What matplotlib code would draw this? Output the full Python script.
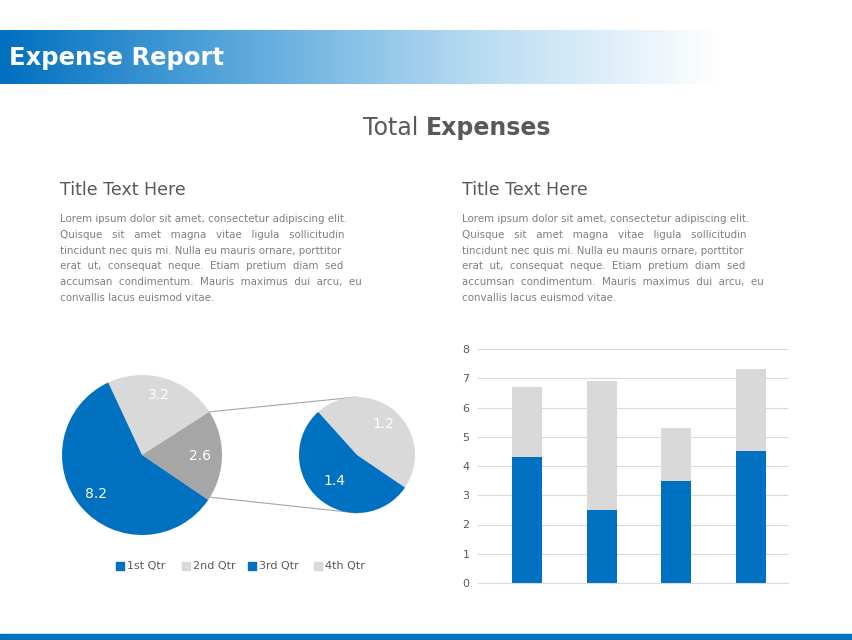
import numpy as np
import matplotlib.pyplot as plt
from matplotlib.colors import LinearSegmentedColormap

# data
main_vals = [3.2, 2.6, 8.2]          # 2nd Qtr, other (3rd+4th), 1st Qtr
main_cols = ["#d9d9d9", "#a6a6a6", "#0070c0"]
sub_vals = [1.2, 1.4]                # 4th Qtr, 3rd Qtr
sub_cols = ["#d9d9d9", "#0070c0"]
legend_labels = ["1st Qtr", "2nd Qtr", "3rd Qtr", "4th Qtr"]
legend_cols = ["#0070c0", "#d9d9d9", "#0070c0", "#d9d9d9"]
bar_blue = [4.3, 2.5, 3.5, 4.5]
bar_grey = [2.4, 4.4, 1.8, 2.8]

lorem = ("Lorem ipsum dolor sit amet, consectetur adipiscing elit.\n"
         "Quisque   sit   amet   magna   vitae   ligula   sollicitudin\n"
         "tincidunt nec quis mi. Nulla eu mauris ornare, porttitor\n"
         "erat  ut,  consequat  neque.  Etiam  pretium  diam  sed\n"
         "accumsan  condimentum.  Mauris  maximus  dui  arcu,  eu\n"
         "convallis lacus euismod vitae.")

W, H = 853, 640
fig = plt.figure(figsize=(W / 100, H / 100), dpi=100)
plt.rcParams['font.family'] = ['DejaVu Sans']

def px_axes(x, y, w, h):
    return fig.add_axes([x / W, 1 - (y + h) / H, w / W, h / H])

# background / header
bg = px_axes(0, 0, W, H)
bg.set_xlim(0, W); bg.set_ylim(H, 0); bg.axis("off")
cmap = LinearSegmentedColormap.from_list("hdr", ["#0070c0", "#5ba8dc", "#b9dcf2", "#ffffff"])
grad = np.linspace(0, 1, 256).reshape(1, -1)
bg.imshow(grad, cmap=cmap, extent=[0, 720, 84, 30], aspect="auto")
bg.fill_between([0, W], 634, 640, color="#0070c0")
bg.text(9, 58, "Expense Report", color="white", fontsize=17.5, fontweight="bold", va="center")
bg.text(426, 128, "Total ", color="#595959", fontsize=17, ha="right", va="center")
bg.text(426, 128, "Expenses", color="#595959", fontsize=17, fontweight="bold", ha="left", va="center")
for x0 in (60, 462):
    bg.text(x0, 190, "Title Text Here", color="#595959", fontsize=12.5, va="center")
    bg.text(x0, 214, lorem, color="#7f7f7f", fontsize=7.4, va="top", linespacing=1.72)

# connector lines
bg.plot([208, 357], [412, 397], color="#a6a6a6", lw=0.8)
bg.plot([208, 357], [497, 513], color="#a6a6a6", lw=0.8)

# main pie
ax1 = px_axes(62, 375, 160, 160)
w1, t1 = ax1.pie(main_vals, colors=main_cols, startangle=115, counterclock=False,
                 wedgeprops=dict(linewidth=0))
for wedge, v, r in zip(w1, main_vals, [0.78, 0.72, 0.75]):
    ang = np.deg2rad((wedge.theta1 + wedge.theta2) / 2)
    ax1.text(r * np.cos(ang), r * np.sin(ang), f"{v}", color="white", fontsize=10,
             ha="center", va="center")
ax1.set_xlim(-1, 1); ax1.set_ylim(-1, 1)

# sub pie
ax2 = px_axes(299, 397, 116, 116)
w2, t2 = ax2.pie(sub_vals, colors=sub_cols, startangle=132, counterclock=False,
                 wedgeprops=dict(linewidth=0))
for wedge, v, r in zip(w2, sub_vals, [0.7, 0.6]):
    ang = np.deg2rad((wedge.theta1 + wedge.theta2) / 2)
    ax2.text(r * np.cos(ang), r * np.sin(ang), f"{v}", color="white", fontsize=10,
             ha="center", va="center")
ax2.set_xlim(-1, 1); ax2.set_ylim(-1, 1)

# legend
lx = 117
for lab, c in zip(legend_labels, legend_cols):
    bg.scatter([lx + 3], [566], marker="s", s=30, color=c)
    bg.text(lx + 10, 566, lab, fontsize=8, color="#595959", va="center")
    lx += 66

# bar chart
ax3 = px_axes(478, 349, 310, 234)
x = np.arange(len(bar_blue))
ax3.bar(x, bar_blue, width=0.4, color="#0070c0")
ax3.bar(x, bar_grey, bottom=bar_blue, width=0.4, color="#d9d9d9")
ax3.set_xlim(-0.66, 3.5)
ax3.set_ylim(0, 8)
ax3.set_yticks(range(9))
ax3.set_xticks([])
ax3.grid(axis="y", color="#d9d9d9", lw=0.8)
ax3.set_axisbelow(True)
for s in ax3.spines.values():
    s.set_visible(False)
ax3.spines["bottom"].set_visible(True)
ax3.spines["bottom"].set_color("#d9d9d9")
ax3.tick_params(axis="y", length=0, labelsize=8, labelcolor="#595959", pad=6)

fig.savefig("out.png", dpi=100)
